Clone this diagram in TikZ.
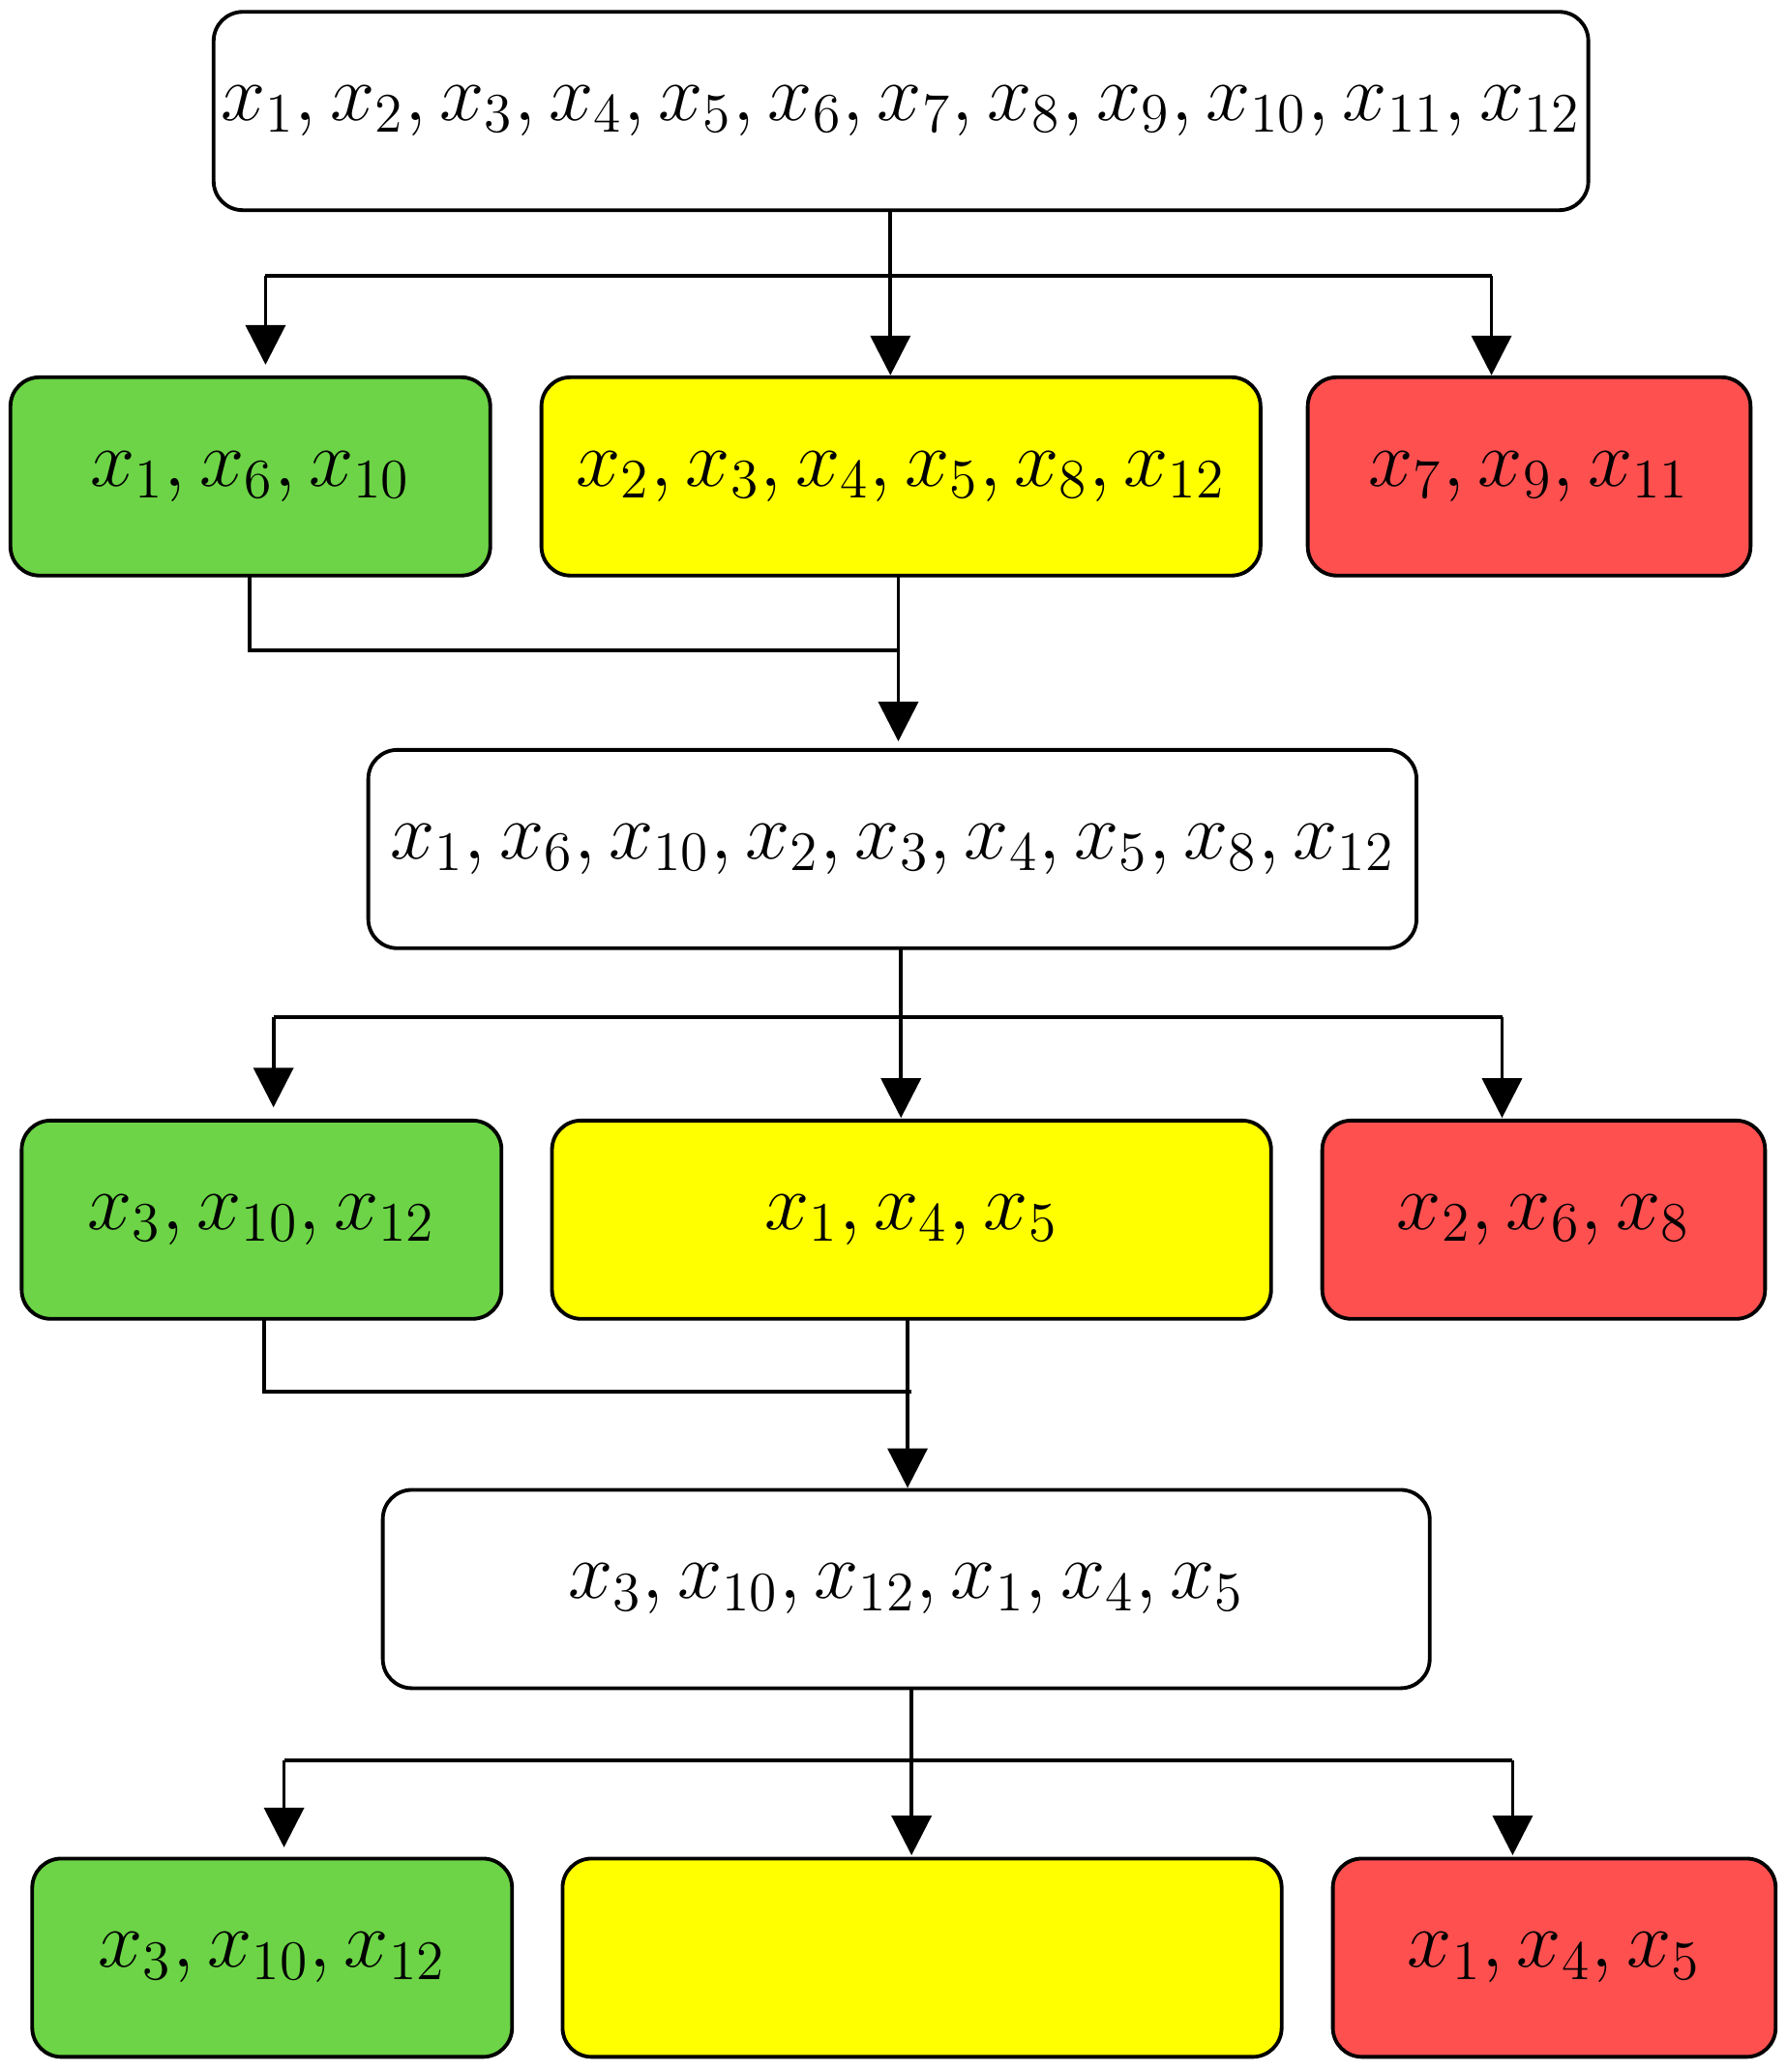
\documentclass[tikz,border=0pt]{standalone}
\usepackage{fontspec}
\setmainfont{Liberation Serif}
\usetikzlibrary{calc}
\usetikzlibrary{arrows.meta}
\definecolor{grn}{HTML}{6CD446}
\definecolor{ylw}{HTML}{FFFF00}
\definecolor{rd}{HTML}{FF5050}
\begin{document}
\begin{tikzpicture}[
      x=0.01cm, y=-0.01cm,
      every node/.style={draw, rounded corners=0.22cm, line width=0.8pt, font=\fontsize{18}{21}\selectfont, inner sep=0pt},
      big/.style={fill=white, minimum height=1.5cm},
      gbox/.style={fill=grn, minimum height=1.5cm, minimum width=3.63cm},
      ybox/.style={fill=ylw, minimum height=1.5cm, minimum width=5.44cm},
      rbox/.style={fill=rd, minimum height=1.5cm, minimum width=3.35cm},
      arr/.style={-{Triangle[length=0.3cm, width=0.3cm]}, line width=0.8pt},
      ln/.style={line width=0.8pt}
    ]
    \useasboundingbox (0,0) rectangle (1352,1568);
    % Stufe 1
    \node[big, minimum width=10.4cm] (t1) at (682,84) {$x_1, x_2, x_3, x_4, x_5, x_6, x_7, x_8, x_9, x_{10}, x_{11}, x_{12}$};
    \node[gbox] (g1) at (189.5,360.5) {$x_1, x_6, x_{10}$};
    \node[ybox] (y1) at (682,360.5) {$x_2, x_3, x_4, x_5, x_8, x_{12}$};
    \node[rbox] (r1) at (1157.5,360.5) {$x_7, x_9, x_{11}$};
    \coordinate (s1l) at (201,209);
    \coordinate (s1m) at (674,209);
    \coordinate (s1r) at (1129,209);
    \draw[ln] (674,160) -- (s1m);
    \draw[ln] (s1l) -- (s1r);
    \draw[arr] (s1l) -- (201,276);
    \draw[arr] (s1m) -- (674,284);
    \draw[arr] (s1r) -- (1129,284);

    % Stufe 2
    \node[big, minimum width=7.93cm] (t2) at (675.5,642.5) {$x_1, x_6, x_{10}, x_2, x_3, x_4, x_5, x_8, x_{12}$};
    \coordinate (m1) at (189,492);
    \draw[ln] (189,435) -- (m1) -- (680,492);
    \draw[arr] (680,435) -- (680,561);
    \node[gbox] (g2) at (198,923) {$x_3, x_{10}, x_{12}$};
    \node[ybox] (y2) at (690,923) {$x_1, x_4, x_5$};
    \node[rbox] (r2) at (1168.5,923) {$x_2, x_6, x_8$};
    \coordinate (s2l) at (207,770);
    \coordinate (s2r) at (1137,770);
    \draw[ln] (682,718) -- (682,770);
    \draw[ln] (s2l) -- (s2r);
    \draw[arr] (s2l) -- (207,838);
    \draw[arr] (682,770) -- (682,846);
    \draw[arr] (s2r) -- (1137,846);

    % Stufe 3
    \node[big, minimum width=7.92cm] (t3) at (686,1202.5) {$x_3, x_{10}, x_{12}, x_1, x_4, x_5$};
    \draw[ln] (200,998) -- (200,1053) -- (690,1053);
    \draw[arr] (687,998) -- (687,1126);
    \node[gbox] (g3) at (206,1481.5) {$x_3, x_{10}, x_{12}$};
    \node[ybox] (y3) at (698,1481.5) {};
    \node[rbox] (r3) at (1176.5,1481.5) {$x_1, x_4, x_5$};
    \coordinate (s3l) at (215,1332);
    \coordinate (s3r) at (1145,1332);
    \draw[ln] (690,1277) -- (690,1332);
    \draw[ln] (s3l) -- (s3r);
    \draw[arr] (s3l) -- (215,1398);
    \draw[arr] (690,1332) -- (690,1404);
    \draw[arr] (s3r) -- (1145,1404);
\end{tikzpicture}
\end{document}
